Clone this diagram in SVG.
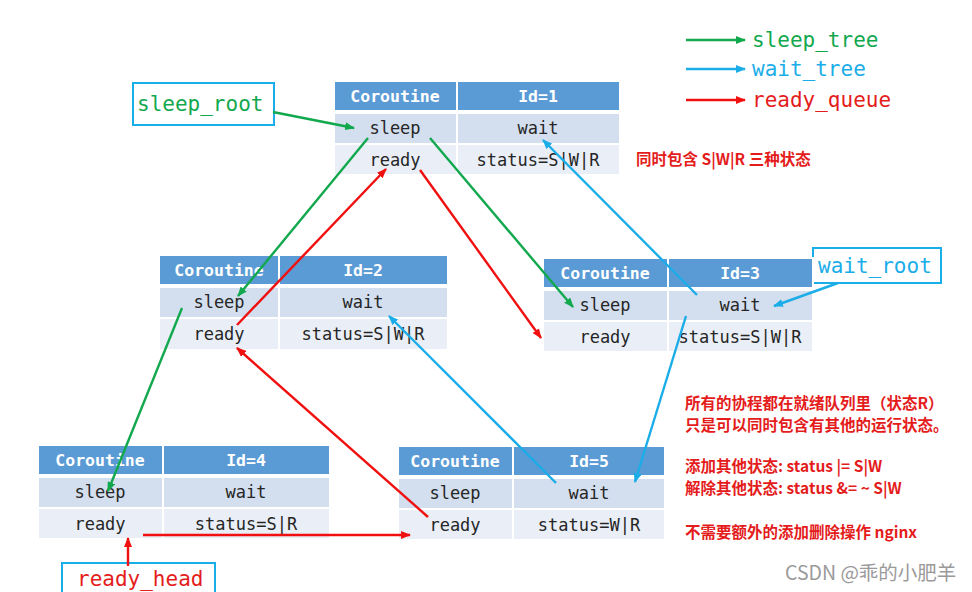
<svg xmlns="http://www.w3.org/2000/svg" width="972" height="592" viewBox="0 0 972 592">
<style>
.hd{fill:#5b9bd5;stroke:#fff;stroke-width:2}
.r1{fill:#d3dfef;stroke:#fff;stroke-width:2}
.r2{fill:#eaeff7;stroke:#fff;stroke-width:2}
.ht{font-family:"DejaVu Sans Mono","Liberation Mono",monospace;font-weight:bold;font-size:16.5px;fill:#fff;text-anchor:middle}
.ct{font-family:"DejaVu Sans Mono","Liberation Mono",monospace;font-size:17px;fill:#262626;text-anchor:middle}
.lbl{font-family:"DejaVu Sans Mono","Liberation Mono",monospace;font-size:21px}
.box{fill:#fff;stroke:#1aaee8;stroke-width:2}
.g{stroke:#12a84e;stroke-width:2.4;fill:none}
.b{stroke:#1bade8;stroke-width:2.4;fill:none}
.r{stroke:#f01010;stroke-width:2.4;fill:none}
.note{font-family:"Noto Sans CJK SC","Noto Sans",sans-serif;font-weight:bold;font-size:15.5px;fill:#e41c1c}
</style>
<defs>
<marker id="ag" markerWidth="10" markerHeight="8" refX="9" refY="4" orient="auto" markerUnits="userSpaceOnUse"><path d="M0,0 L10,4 L0,8 z" fill="#12a84e"/></marker>
<marker id="ab" markerWidth="10" markerHeight="8" refX="9" refY="4" orient="auto" markerUnits="userSpaceOnUse"><path d="M0,0 L10,4 L0,8 z" fill="#1bade8"/></marker>
<marker id="ar" markerWidth="10" markerHeight="8" refX="9" refY="4" orient="auto" markerUnits="userSpaceOnUse"><path d="M0,0 L10,4 L0,8 z" fill="#f01010"/></marker>
</defs>
<rect width="972" height="592" fill="#fff"/>

<g id="legend">
<line class="g" x1="686" y1="40" x2="745" y2="40" marker-end="url(#ag)"/>
<line class="b" x1="686" y1="69" x2="745" y2="69" marker-end="url(#ab)"/>
<line class="r" x1="686" y1="100" x2="745" y2="100" marker-end="url(#ar)"/>
<text class="lbl" x="752" y="47" fill="#12a84e">sleep_tree</text>
<text class="lbl" x="752" y="76" fill="#1bade8">wait_tree</text>
<text class="lbl" x="752" y="107" fill="#e41c1c">ready_queue</text>
</g>

<g id="sleep_root">
<rect class="box" x="133" y="83" width="141" height="42"/>
<text class="lbl" x="137" y="111" fill="#12a84e">sleep_root</text>
</g>

<g id="wait_root">
<rect class="box" x="813" y="248" width="128" height="35"/>
<text class="lbl" x="818" y="273" fill="#1bade8">wait_root</text>
</g>

<g id="ready_head">
<rect class="box" x="62" y="563" width="153" height="40"/>
<text class="lbl" x="77" y="586" fill="#e41c1c">ready_head</text>
</g>

<g id="node1">
<rect class="hd" x="334" y="81" width="123" height="30"/>
<rect class="hd" x="457" y="81" width="163" height="30"/>
<rect class="r1" x="334" y="113" width="123" height="31"/>
<rect class="r1" x="457" y="113" width="163" height="31"/>
<rect class="r2" x="334" y="144" width="123" height="31"/>
<rect class="r2" x="457" y="144" width="163" height="31"/>
<text class="ht" x="395" y="102">Coroutine</text>
<text class="ht" x="538" y="102">Id=1</text>
<text class="ct" x="395" y="134">sleep</text>
<text class="ct" x="538" y="134">wait</text>
<text class="ct" x="395" y="166">ready</text>
<text class="ct" x="538" y="166">status=S|W|R</text>
</g>

<g id="node2">
<rect class="hd" x="159" y="255" width="120" height="30"/>
<rect class="hd" x="279" y="255" width="169" height="30"/>
<rect class="r1" x="159" y="287" width="120" height="31"/>
<rect class="r1" x="279" y="287" width="169" height="31"/>
<rect class="r2" x="159" y="318" width="120" height="32"/>
<rect class="r2" x="279" y="318" width="169" height="32"/>
<text class="ht" x="219" y="276">Coroutine</text>
<text class="ht" x="363" y="276">Id=2</text>
<text class="ct" x="219" y="308">sleep</text>
<text class="ct" x="363" y="308">wait</text>
<text class="ct" x="219" y="340">ready</text>
<text class="ct" x="363" y="340">status=S|W|R</text>
</g>

<g id="node3">
<rect class="hd" x="543" y="258" width="125" height="30"/>
<rect class="hd" x="668" y="258" width="145" height="30"/>
<rect class="r1" x="543" y="290" width="125" height="31"/>
<rect class="r1" x="668" y="290" width="145" height="31"/>
<rect class="r2" x="543" y="321" width="125" height="31"/>
<rect class="r2" x="668" y="321" width="145" height="31"/>
<text class="ht" x="605" y="279">Coroutine</text>
<text class="ht" x="740" y="279">Id=3</text>
<text class="ct" x="605" y="311">sleep</text>
<text class="ct" x="740" y="311">wait</text>
<text class="ct" x="605" y="343">ready</text>
<text class="ct" x="740" y="343">status=S|W|R</text>
</g>

<g id="node4">
<rect class="hd" x="38" y="445" width="125" height="30"/>
<rect class="hd" x="163" y="445" width="167" height="30"/>
<rect class="r1" x="38" y="477" width="125" height="31"/>
<rect class="r1" x="163" y="477" width="167" height="31"/>
<rect class="r2" x="38" y="508" width="125" height="31"/>
<rect class="r2" x="163" y="508" width="167" height="31"/>
<text class="ht" x="100" y="466">Coroutine</text>
<text class="ht" x="246" y="466">Id=4</text>
<text class="ct" x="100" y="498">sleep</text>
<text class="ct" x="246" y="498">wait</text>
<text class="ct" x="100" y="530">ready</text>
<text class="ct" x="246" y="530">status=S|R</text>
</g>

<g id="node5">
<rect class="hd" x="398" y="446" width="115" height="30"/>
<rect class="hd" x="513" y="446" width="152" height="30"/>
<rect class="r1" x="398" y="478" width="115" height="31"/>
<rect class="r1" x="513" y="478" width="152" height="31"/>
<rect class="r2" x="398" y="509" width="115" height="31"/>
<rect class="r2" x="513" y="509" width="152" height="31"/>
<text class="ht" x="455" y="467">Coroutine</text>
<text class="ht" x="589" y="467">Id=5</text>
<text class="ct" x="455" y="499">sleep</text>
<text class="ct" x="589" y="499">wait</text>
<text class="ct" x="455" y="531">ready</text>
<text class="ct" x="589" y="531">status=W|R</text>
</g>

<g id="connectors">
<line class="g" x1="273" y1="112" x2="354" y2="128" marker-end="url(#ag)"/>
<line class="g" x1="368" y1="138" x2="238" y2="296" marker-end="url(#ag)"/>
<line class="g" x1="430" y1="138" x2="573" y2="307" marker-end="url(#ag)"/>
<line class="g" x1="182" y1="308" x2="108" y2="491" marker-end="url(#ag)"/>
<line class="b" x1="838" y1="283" x2="774" y2="306" marker-end="url(#ab)"/>
<line class="b" x1="697" y1="295" x2="543" y2="140" marker-end="url(#ab)"/>
<line class="b" x1="556" y1="483" x2="389" y2="316" marker-end="url(#ab)"/>
<line class="b" x1="686" y1="316" x2="635" y2="482" marker-end="url(#ab)"/>
<line class="r" x1="128" y1="566" x2="128" y2="538" marker-end="url(#ar)"/>
<line class="r" x1="143" y1="535" x2="410" y2="535" marker-end="url(#ar)"/>
<line class="r" x1="428" y1="517" x2="237" y2="348" marker-end="url(#ar)"/>
<line class="r" x1="237" y1="325" x2="386" y2="169" marker-end="url(#ar)"/>
<line class="r" x1="420" y1="170" x2="541" y2="338" marker-end="url(#ar)"/>
</g>

<g id="notes">
<text class="note" x="636" y="165">同时包含 S|W|R 三种状态</text>
<text class="note" x="685" y="409">所有的协程都在就绪队列里（状态R）</text>
<text class="note" x="685" y="431">只是可以同时包含有其他的运行状态。</text>
<text class="note" x="685" y="472">添加其他状态: status |= S|W</text>
<text class="note" x="685" y="494">解除其他状态: status &amp;= ~ S|W</text>
<text class="note" x="685" y="538">不需要额外的添加删除操作 nginx</text>
<text x="785" y="580" font-family="Noto Sans CJK SC, Noto Sans, sans-serif" font-size="19.5" fill="#9a9a9a">CSDN @乖的小肥羊</text>
</g>
</svg>
